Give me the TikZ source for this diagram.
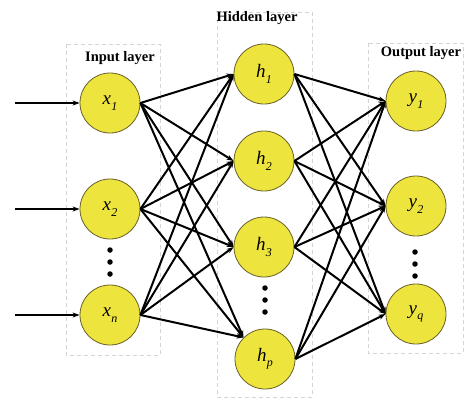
\documentclass[tikz,border=0pt]{standalone}
\usepackage{fontspec}
\setmainfont{Liberation Serif}
\usetikzlibrary{arrows.meta}
\definecolor{nodefill}{RGB}{238,228,62}
\definecolor{nodeedge}{RGB}{105,95,40}
\definecolor{boxgray}{RGB}{212,212,212}
\newcommand\nlbl[2]{\textit{#1}\kern0.3pt\raisebox{-0.28em}{\fontsize{12}{12}\selectfont\textit{#2}}}
\begin{document}
\begin{tikzpicture}[x=1pt,y=-1pt,
  neuron/.style={circle,draw=nodeedge,line width=0.8pt,fill=nodefill,minimum size=60pt,inner sep=0pt,font=\fontsize{19}{19}\selectfont},
  layerbox/.style={draw=boxgray,dash pattern=on 4pt off 3pt,line width=0.9pt},
  layertitle/.style={font=\fontsize{14.5}{14.5}\selectfont\bfseries},
  conn/.style={line width=2pt,-{Stealth[length=7pt,width=5pt]}},
  vdot/.style={circle,fill=black,inner sep=0pt,minimum size=5.5pt}]
\useasboundingbox (0,0) rectangle (474,402);
% layer boxes
\draw[layerbox] (66,44) rectangle (160,355);
\draw[layerbox] (217,12) rectangle (312,397);
\draw[layerbox] (368,43) rectangle (463,353);
% titles
\node[layertitle] (tin) at (120,58) {Input layer};
\node[layertitle] (thid) at (257,18) {Hidden layer};
\node[layertitle] (tout) at (421,53) {Output layer};
% input nodes
\node[neuron] (x1) at (110,103) {\nlbl{x}{1}};
\node[neuron] (x2) at (110,209) {\nlbl{x}{2}};
\node[neuron] (xn) at (110,315) {\nlbl{x}{n}};
% hidden nodes
\node[neuron] (h1) at (264,74) {\nlbl{h}{1}};
\node[neuron] (h2) at (264,161) {\nlbl{h}{2}};
\node[neuron] (h3) at (264,247) {\nlbl{h}{3}};
\node[neuron] (hp) at (265,359) {\nlbl{h}{p}};
% output nodes
\node[neuron] (y1) at (416,101) {\nlbl{y}{1}};
\node[neuron] (y2) at (416,206) {\nlbl{y}{2}};
\node[neuron] (yq) at (416,314) {\nlbl{y}{q}};
% dots
\node[vdot] (dx1) at (110,250) {};
\node[vdot] (dx2) at (110,262) {};
\node[vdot] (dx3) at (110,274) {};
\node[vdot] (dh1) at (265,288) {};
\node[vdot] (dh2) at (265,300) {};
\node[vdot] (dh3) at (265,312) {};
\node[vdot] (dy1) at (415,252) {};
\node[vdot] (dy2) at (415,264) {};
\node[vdot] (dy3) at (415,276) {};
% input arrows
\coordinate (i1) at (15,103);
\coordinate (i2) at (15,209);
\coordinate (in) at (15,315);
\draw[conn] (i1) -- (x1.west);
\draw[conn] (i2) -- (x2.west);
\draw[conn] (in) -- (xn.west);
% input -> hidden
\foreach \s in {x1,x2,xn}{
  \draw[conn] (\s.east) -- (h1.west);
  \draw[conn] (\s.east) -- (h2.west);
  \draw[conn] (\s.east) -- (h3.west);
  \draw[conn] (\s.east) -- (hp.135);
}
% hidden -> output
\foreach \s in {h1,h2,h3,hp}{
  \draw[conn] (\s.east) -- (y1.west);
  \draw[conn] (\s.east) -- (y2.west);
  \draw[conn] (\s.east) -- (yq.west);
}
\end{tikzpicture}
\end{document}
